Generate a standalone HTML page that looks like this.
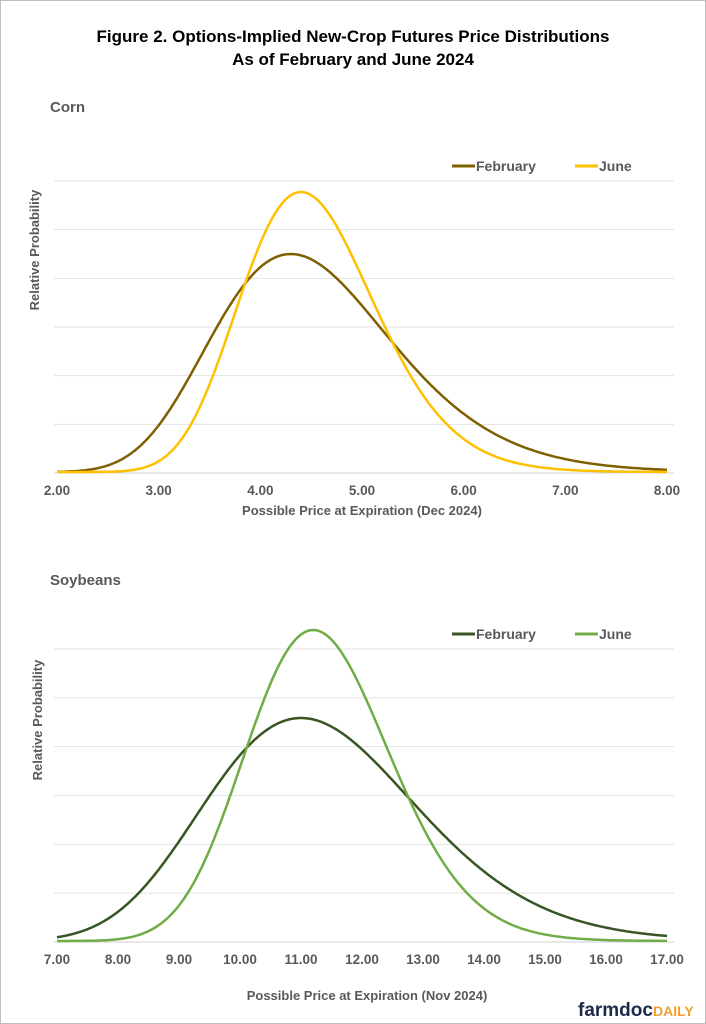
<!DOCTYPE html>
<html><head><meta charset="utf-8"><style>
body{margin:0;background:#fff}
svg{display:block;font-family:"Liberation Sans",Arial,sans-serif}
</style></head><body>
<svg id="s" width="706" height="1024" viewBox="0 0 706 1024" xmlns="http://www.w3.org/2000/svg">
<rect x="0.5" y="0.5" width="705" height="1023" fill="#fff" stroke="#bfbfbf"/>
<text x="353" y="42" text-anchor="middle" font-size="17" font-weight="bold" fill="#000">Figure 2. Options-Implied New-Crop Futures Price Distributions</text>
<text x="353" y="65" text-anchor="middle" font-size="17" font-weight="bold" fill="#000">As of February and June 2024</text>
<text x="50" y="112" font-size="15" font-weight="bold" fill="#595959">Corn</text>
<text x="50" y="585" font-size="15" font-weight="bold" fill="#595959">Soybeans</text>
<g id="g1"></g><g id="g2"></g>
<g font-size="14" font-weight="bold" fill="#595959">
<line x1="452" y1="166" x2="475" y2="166" stroke="#7f6000" stroke-width="3"/><text x="476" y="171">February</text>
<line x1="575" y1="166" x2="598" y2="166" stroke="#ffc000" stroke-width="3"/><text x="599" y="171">June</text>
<line x1="452" y1="634" x2="475" y2="634" stroke="#375623" stroke-width="3"/><text x="476" y="639">February</text>
<line x1="575" y1="634" x2="598" y2="634" stroke="#70ad47" stroke-width="3"/><text x="599" y="639">June</text>
<text transform="translate(39,250) rotate(-90)" text-anchor="middle" font-size="13">Relative Probability</text>
<text transform="translate(42,720) rotate(-90)" text-anchor="middle" font-size="13">Relative Probability</text>
<text x="362" y="515" text-anchor="middle" font-size="13">Possible Price at Expiration (Dec 2024)</text>
<text x="367" y="1000" text-anchor="middle" font-size="13">Possible Price at Expiration (Nov 2024)</text>
</g>
<text x="578" y="1016" font-size="19" font-weight="bold" fill="#1f2a4a">farmdoc<tspan fill="#f0a030" font-size="14">DAILY</tspan></text>
</svg>
<script>
var NS="http://www.w3.org/2000/svg";
function el(g,t,a,txt){var e=document.createElementNS(NS,t);for(var k in a)e.setAttribute(k,a[k]);if(txt)e.textContent=txt;g.appendChild(e);return e;}
function chart(id,base,top,x0,x1,v0,v1,step,fmt,series){
 var g=document.getElementById(id);var sp=(base-top)/6;
 for(var i=0;i<=6;i++){var y=base-i*sp;el(g,"line",{x1:54,x2:674,y1:y,y2:y,stroke:i==0?"#d0d0d0":"#e3e3e3","stroke-width":1});}
 var X=function(v){return x0+(v-v0)*(x1-x0)/(v1-v0)};
 for(var v=v0;v<=v1+1e-9;v+=step){el(g,"text",{x:X(v),y:base+22,"text-anchor":"middle","font-size":13.5,"font-weight":"bold",fill:"#595959"},v.toFixed(2));}
 series.forEach(function(s){
  var mu=Math.log(s.mode)+s.s*s.s;
  var f=function(x){return Math.exp(-Math.pow(Math.log(x)-mu,2)/(2*s.s*s.s))/x};
  var fm=f(s.mode),d="";
  for(var i=0;i<=300;i++){var x=v0+(v1-v0)*i/300;var y=base-1-(s.peak)*f(x)/fm;d+=(i?"L":"M")+X(x).toFixed(1)+","+y.toFixed(1);}
  el(g,"path",{d:d,fill:"none",stroke:s.c,"stroke-width":2.5,"stroke-linejoin":"round"});
 });
}
chart("g1",473,181,57,667,2,8,1,0,[
 {mode:4.3,s:0.205,peak:218,c:"#7f6000"},
 {mode:4.4,s:0.15,peak:280,c:"#ffc000"}]);
chart("g2",942,649,57,667,7,17,1,0,[
 {mode:11.0,s:0.158,peak:223,c:"#375623"},
 {mode:11.2,s:0.105,peak:311,c:"#70ad47"}]);
</script>
</body></html>
